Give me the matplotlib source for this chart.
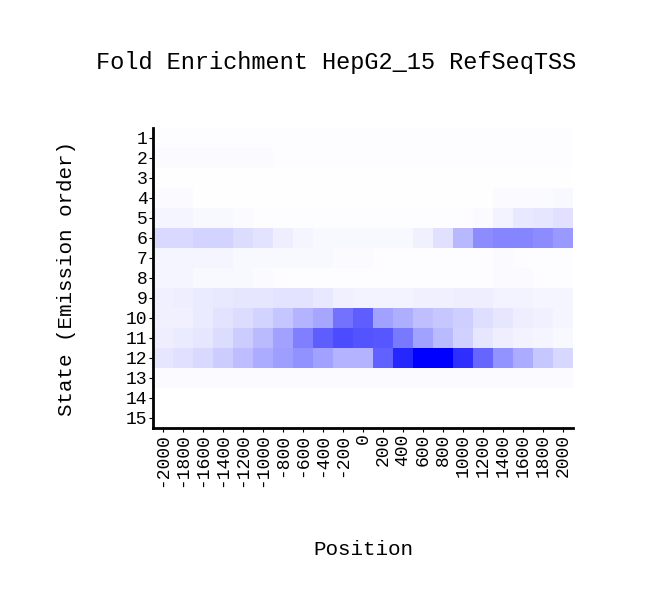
import numpy as np
import matplotlib
matplotlib.use("Agg")
import matplotlib.pyplot as plt
from matplotlib.colors import LinearSegmentedColormap

positions = list(range(-2000, 2001, 200))
states = [str(i) for i in range(1, 16)]
r1 = [0.01]*21
r2 = [0.02]*6 + [0.01]*15
r3 = [0.005]*21
r4 = [0.02, 0.02] + [0.005]*15 + [0.02, 0.02, 0.02, 0.03]
r5 = [0.04, 0.04, 0.03, 0.03, 0.02, 0.01, 0.01, 0.01, 0.01, 0.01, 0.01, 0.01, 0.01, 0.01, 0.01, 0.01, 0.02, 0.05, 0.09, 0.10, 0.12]
r6 = [0.15, 0.15, 0.17, 0.17, 0.14, 0.11, 0.07, 0.04, 0.03, 0.03, 0.03, 0.03, 0.03, 0.06, 0.12, 0.28, 0.45, 0.48, 0.48, 0.45, 0.40]
r7 = [0.04, 0.04, 0.04, 0.04, 0.03, 0.03, 0.03, 0.03, 0.03, 0.02, 0.02, 0.01, 0.01, 0.01, 0.01, 0.01, 0.01, 0.02, 0.01, 0.01, 0.01]
r8 = [0.04, 0.04, 0.03, 0.03, 0.03, 0.02, 0.01, 0.01, 0.01, 0.01, 0.01, 0.01, 0.01, 0.01, 0.01, 0.01, 0.01, 0.02, 0.02, 0.01, 0.01]
r9 = [0.06, 0.07, 0.08, 0.09, 0.10, 0.10, 0.11, 0.11, 0.09, 0.06, 0.05, 0.05, 0.05, 0.06, 0.06, 0.07, 0.07, 0.05, 0.05, 0.04, 0.04]
r10 = [0.06, 0.06, 0.08, 0.11, 0.14, 0.17, 0.23, 0.30, 0.35, 0.55, 0.63, 0.37, 0.32, 0.25, 0.22, 0.19, 0.13, 0.10, 0.07, 0.06, 0.04]
r11 = [0.07, 0.08, 0.10, 0.14, 0.20, 0.27, 0.37, 0.50, 0.63, 0.70, 0.67, 0.66, 0.52, 0.37, 0.27, 0.18, 0.10, 0.07, 0.05, 0.04, 0.03]
r12 = [0.10, 0.12, 0.15, 0.20, 0.26, 0.33, 0.38, 0.43, 0.37, 0.30, 0.30, 0.62, 0.85, 1.00, 1.00, 0.82, 0.60, 0.42, 0.33, 0.22, 0.16]
r13 = [0.02]*21
r14 = [0.0]*21
r15 = [0.0]*21
data = np.array([r1, r2, r3, r4, r5, r6, r7, r8, r9, r10, r11, r12, r13, r14, r15])

plt.rcParams['font.family'] = ['Liberation Mono', 'DejaVu Sans Mono']
fig = plt.figure(figsize=(6.72, 6.16), dpi=100)
ax = fig.add_axes([153/672, 1-428/616, 420/672, 300/616])
cmap = LinearSegmentedColormap.from_list('wb', ['#ffffff', '#0000ff'])
ax.imshow(data, cmap=cmap, vmin=0, vmax=1, aspect='auto', interpolation='nearest')
ax.set_xticks(range(len(positions)))
ax.set_xticklabels([str(p) for p in positions], rotation=90, fontsize=13)
ax.set_yticks(range(len(states)))
ax.set_yticklabels(states, fontsize=13)
ax.tick_params(length=3, pad=1)
for s in ['top', 'right']:
    ax.spines[s].set_visible(False)
for s in ['left', 'bottom']:
    ax.spines[s].set_linewidth(2)
ax.set_xlabel('Position', fontsize=15, labelpad=38)
ax.set_ylabel('State (Emission order)', fontsize=15, labelpad=36)
fig.text(0.5, 1-62/616, 'Fold Enrichment HepG2_15 RefSeqTSS', ha='center', va='center', fontsize=17)
fig.savefig('out.png', dpi=100)
